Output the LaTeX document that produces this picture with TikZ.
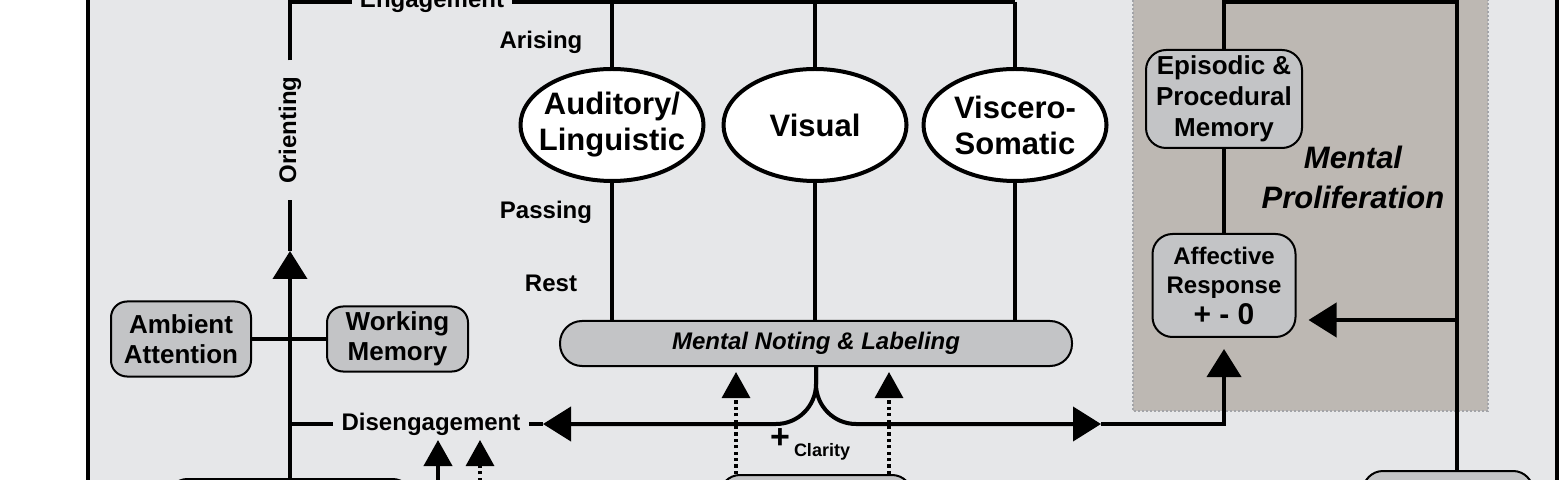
\documentclass[tikz,border=0pt]{standalone}
\usepackage{fontspec}
\setmainfont{Liberation Sans}
\usetikzlibrary{arrows.meta,shapes.geometric}
\definecolor{bgc}{HTML}{E6E7E9}
\definecolor{boxc}{HTML}{C3C4C6}
\definecolor{prolc}{HTML}{BDB8B3}
\definecolor{dashc}{HTML}{A3A4A8}
\begin{document}
\begin{tikzpicture}[x=0.5pt,y=-0.5pt,
  conn/.style={line width=2pt},
  tri/.style={-{Triangle[length=14pt,width=17pt]}},
  stri/.style={-{Triangle[length=13pt,width=14pt]}},
  dots/.style={line width=1.6pt, dash pattern=on 1.6pt off 1.6pt},
  gbox/.style={draw, line width=1pt, fill=boxc, rounded corners=8pt, align=center, inner sep=1pt,
    font=\bfseries\fontsize{13}{15}\selectfont},
  ell/.style={ellipse, draw, line width=2pt, fill=white, minimum width=91.5pt, minimum height=56pt,
    inner sep=0pt},
  etext/.style={align=center, inner sep=0pt, font=\bfseries\fontsize{15.5}{18}\selectfont},
  lbl/.style={font=\bfseries\fontsize{12}{14}\selectfont, inner ysep=1pt}]
\useasboundingbox (0,0) rectangle (1567,480);
\clip (0,0) rectangle (1567,480);
% background and frame
\fill[white] (0,0) rectangle (1567,480);
\fill[bgc] (88,-20) rectangle (1557,500);
\draw[line width=2pt] (88,-20) -- (88,500);
\draw[line width=2pt] (1557,-20) -- (1557,500);
% mental proliferation region
\draw[dashc, line width=0.6pt, dash pattern=on 1pt off 1pt, fill=prolc] (1133,-20) rectangle (1488,411);
\node[font=\bfseries\itshape\fontsize{15.5}{20}\selectfont, align=center] (prol) at (1353,177) {Mental\\Proliferation};

% sense ellipses
\node[ell] (aud) at (612,125) {};
\node[etext] (audt) at (aud.center) {Auditory/\\Linguistic};
\node[ell] (vis) at (815,125) {};
\node[etext] (vist) at (vis.center) {Visual};
\node[ell] (visc) at (1015,125) {};
\node[etext] (visct) at (visc.center) {Viscero-\\Somatic};

% labels
\node[lbl, inner xsep=4pt] (eng) at (432,2) {Engagement};
\node[lbl] (aris) at (541,42) {Arising};
\node[lbl] (pass) at (546,212) {Passing};
\node[lbl] (rest) at (551,283) {Rest};
\node[lbl, rotate=90, inner xsep=8pt] (orient) at (290,130) {Orienting};
\node[lbl, inner xsep=4pt] (dis) at (431,424) {Disengagement};

% mental noting
\node[draw, line width=1pt, fill=boxc, rounded corners=11pt, minimum width=256pt, minimum height=22.5pt,
  font=\bfseries\itshape\fontsize{12}{14}\selectfont] (note) at (816,343.5) {Mental Noting \& Labeling};

% left boxes
\node[gbox, minimum width=70pt, minimum height=37.5pt] (amb) at (181,339) {Ambient\\Attention};
\node[gbox, minimum width=70.5pt, minimum height=32.5pt] (wm) at (397.5,339) {Working\\Memory};

% right boxes
\node[gbox, rounded corners=10pt, minimum width=78pt, minimum height=49pt,
  font=\bfseries\fontsize{13}{15.5}\selectfont] (ep) at (1224,99) {Episodic \&\\Procedural\\Memory};
\node[gbox, rounded corners=10pt, minimum width=71.5pt, minimum height=51.5pt,
  font=\bfseries\fontsize{12}{14.5}\selectfont] (aff) at (1224,285.5)
  {Affective\\Response\\[1pt]{\fontsize{15}{15}\selectfont + - 0}};

% bottom (partly visible) boxes
\node[draw, line width=1pt, fill=boxc, rounded corners=10pt, anchor=north, minimum width=122.5pt, minimum height=30pt] (bl) at (290,478) {};
\node[draw, line width=1pt, fill=boxc, rounded corners=10pt, anchor=north, minimum width=96pt, minimum height=30pt] (form) at (816,474) {};
\node[draw, line width=1pt, fill=boxc, rounded corners=10pt, anchor=north, minimum width=85pt, minimum height=30pt] (br) at (1448,470) {};

% clarity
\node[font=\bfseries\fontsize{17}{17}\selectfont, inner sep=0pt] (plus) at (780,439) {+};
\node[font=\bfseries\fontsize{9}{10}\selectfont, inner sep=0pt] (clar) at (822,452) {Clarity};

% coordinates
\coordinate (tl) at (290,2);
\coordinate (tvs) at (1015,2);
\coordinate (up) at (290,251);
\coordinate (dl) at (290,424);
\coordinate (ltip) at (543,424);
\coordinate (rtip) at (1101,424);
\coordinate (trl) at (1224,2);
\coordinate (trr) at (1457,2);
\coordinate (ra) at (1457,320);
\coordinate (d1) at (736,372);
\coordinate (d2) at (889,372);
\coordinate (s1) at (438,440);
\coordinate (s2) at (480,440);
\coordinate (sb1) at (438,500);
\coordinate (sb2) at (480,500);

% engagement lines
\draw[conn] (orient.east) -- (tl) -- (eng.west);
\draw[conn] (eng.east) -- (tvs);
\draw[conn] (aud.north |- tl) -- (aud.north);
\draw[conn] (vis.north |- tl) -- (vis.north);
\draw[conn] (tvs) -- (visc.north);
\draw[conn] (aud.south) -- (aud.south |- note.north);
\draw[conn] (vis.south) -- (vis.south |- note.north);
\draw[conn] (visc.south) -- (visc.south |- note.north);

% left column
\draw[conn, tri] (bl.north) -- (up);
\draw[conn] (up) -- (orient.west);
\draw[conn] (amb.east) -- (wm.west);
\draw[conn] (dl) -- (dis.west);
\draw[conn, stri] (sb1) -- (s1);
\draw[dots, stri] (sb2) -- (s2);

% noting branches
\draw[conn, tri, rounded corners=20pt] (note.south) |- (ltip);
\draw[conn] (ltip) -- (dis.east);
\draw[conn, tri, rounded corners=20pt] (note.south) |- (rtip);
\draw[conn, tri, shorten >=5.5pt] (rtip) -| (aff.south);

% dotted arrows
\draw[dots, stri] (d1 |- form.north) -- (d1);
\draw[dots, stri] (d2 |- form.north) -- (d2);

% right column
\draw[conn] (ep.north) -- (trl) -- (trr) -- (trr |- br.north);
\draw[conn] (ep.south) -- (aff.north);
\draw[conn, tri, shorten >=6pt] (ra) -- (ra -| aff.east);
\end{tikzpicture}
\end{document}
